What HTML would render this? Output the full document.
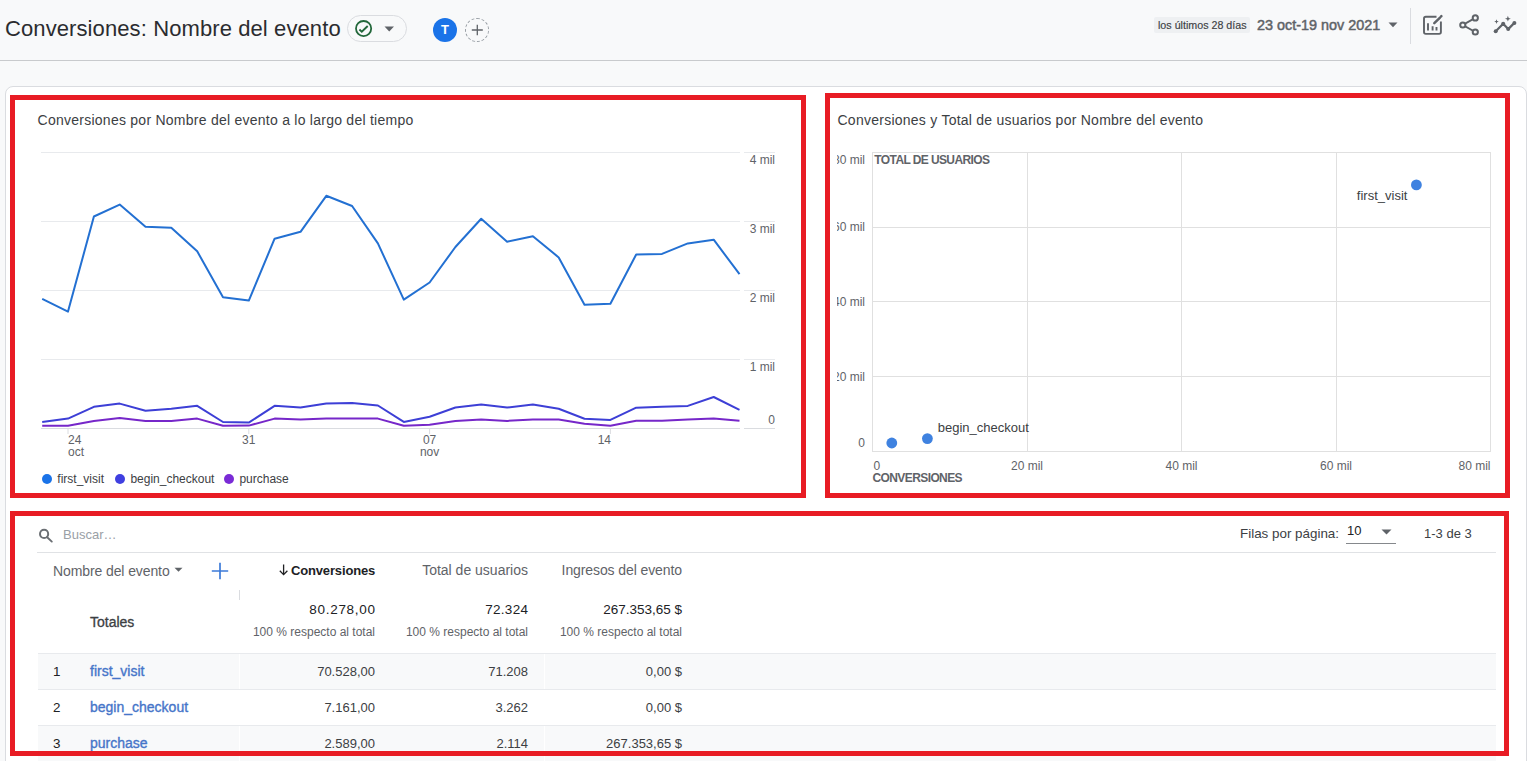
<!DOCTYPE html>
<html><head><meta charset="utf-8">
<style>
*{box-sizing:border-box;margin:0;padding:0}
html,body{width:1527px;height:761px;overflow:hidden;background:#f8f9fa;font-family:"Liberation Sans",sans-serif;color:#202124}
.a{position:absolute;white-space:nowrap}
#hdrline{position:absolute;left:0;top:60px;width:1527px;height:1px;background:#c8cacd}
#card{position:absolute;left:5px;top:86px;width:1522px;height:700px;background:#fff;border:1px solid #dadce0;border-radius:8px}
.red{position:absolute;border:5px solid #e81c24}
svg{position:absolute;left:0;top:0}
</style></head><body>
<!-- header -->
<div class="a" id="title" style="left:5px;top:14px;font-size:22px;line-height:30px;color:#2b2c2f;letter-spacing:0.1px">Conversiones: Nombre del evento</div>
<div class="a" style="left:347px;top:15px;width:60px;height:27px;border:1px solid #dadce0;border-radius:14px"></div>
<svg style="left:355px;top:20px" width="18" height="18" viewBox="0 0 18 18"><circle cx="8.6" cy="8.6" r="7.6" fill="none" stroke="#22673a" stroke-width="1.8"/><path d="M4.4 9.5 L6.8 11.7 L12.7 6" fill="none" stroke="#22673a" stroke-width="1.9"/></svg>
<svg style="left:384px;top:26px" width="11" height="6" viewBox="0 0 11 6"><path d="M0.5 0.5 H10 L5.25 5.5 Z" fill="#5f6368"/></svg>
<div class="a" style="left:433px;top:18px;width:24px;height:24px;border-radius:50%;background:#1a73e8;color:#fff;font-weight:bold;font-size:13px;line-height:24px;text-align:center">T</div>
<div class="a" style="left:465px;top:18px;width:24px;height:24px;border-radius:50%;border:1px dashed #9aa0a6"></div>
<svg style="left:470px;top:23px" width="14" height="14" viewBox="0 0 14 14"><path d="M7.3 1.8 V12.2 M1.8 7 H12.8" stroke="#5f6368" stroke-width="1.3"/></svg>
<div class="a" style="left:1154px;top:17px;width:96px;height:16px;background:#eef0f2;border-radius:2px"></div>
<div class="a" style="left:1158px;top:17px;font-size:10.7px;line-height:16px;color:#3c4043;-webkit-text-stroke:0.15px #3c4043">los últimos 28 días</div>
<div class="a" style="left:1257px;top:16px;font-size:14.4px;line-height:18px;color:#5f6368;-webkit-text-stroke:0.5px #5f6368">23 oct-19 nov 2021</div>
<svg style="left:1388px;top:22px" width="10" height="6" viewBox="0 0 10 6"><path d="M0.5 0.5 H9.5 L5 5.3 Z" fill="#5f6368"/></svg>
<div class="a" style="left:1410px;top:8px;width:1px;height:36px;background:#dadce0"></div>
<svg style="left:1420px;top:12px" width="26" height="26" viewBox="0 0 26 26">
<path d="M16.5 4.8 H5.8 Q4 4.8 4 6.6 V20.1 Q4 21.9 5.8 21.9 H19.1 Q20.9 21.9 20.9 20.1 V9.4" fill="none" stroke="#5f6368" stroke-width="1.9"/>
<path d="M8 18.5 V11.2 M12.6 18.5 V14.2 M16.5 18.5 V15" stroke="#5f6368" stroke-width="1.9"/>
<path d="M14.3 11.1 L19.8 5.8" stroke="#5f6368" stroke-width="2.5" stroke-linecap="round"/>
<path d="M20.9 4.6 L21.4 4.1" stroke="#5f6368" stroke-width="2.5" stroke-linecap="round"/>
</svg>
<svg style="left:1455px;top:12px" width="26" height="26" viewBox="0 0 26 26">
<path d="M20.3 5.9 L7.8 13 L20.3 20" fill="none" stroke="#5f6368" stroke-width="2"/>
<circle cx="20.3" cy="5.9" r="2.6" fill="#f8f9fa" stroke="#5f6368" stroke-width="2"/>
<circle cx="7.8" cy="13" r="2.6" fill="#f8f9fa" stroke="#5f6368" stroke-width="2"/>
<circle cx="20.3" cy="20" r="2.6" fill="#f8f9fa" stroke="#5f6368" stroke-width="2"/>
</svg>
<svg style="left:1490px;top:12px" width="30" height="26" viewBox="0 0 30 26">
<path d="M5.7 19.2 L13.2 11.7 L18.2 17.1 L24.4 10.9" fill="none" stroke="#5f6368" stroke-width="2.2" stroke-linejoin="round"/>
<circle cx="5.7" cy="19.2" r="2" fill="#5f6368"/><circle cx="13.2" cy="11.7" r="2" fill="#5f6368"/><circle cx="18.2" cy="17.1" r="2" fill="#5f6368"/><circle cx="24.4" cy="10.9" r="2" fill="#5f6368"/>
<path d="M6.5 7.3 L7.1 9 L8.8 9.6 L7.1 10.2 L6.5 11.9 L5.9 10.2 L4.2 9.6 L5.9 9 Z" fill="#5f6368"/>
<path d="M17.9 3.8 L18.7 5.9 L20.8 6.7 L18.7 7.5 L17.9 9.6 L17.1 7.5 L15 6.7 L17.1 5.9 Z" fill="#5f6368"/>
</svg>
<div id="hdrline"></div>
<div id="card"></div>

<!--LINECHART-->
<svg width="1527" height="761" style="left:0;top:0">
<g stroke="#e8eaed" stroke-width="1">
<path d="M41 152.5 H740 M41 221.5 H740 M41 290.5 H740 M41 359.5 H740 M744 152.5 H775 M744 221.5 H775 M744 290.5 H775 M744 359.5 H775"/>
</g>
<path d="M41 428.5 H740 M744 428.5 H775" stroke="#dadce0" stroke-width="1"/>
<path d="M68 429 V434 M248.8 429 V434 M429.6 429 V434 M610.4 429 V434" stroke="#dadce0" stroke-width="1"/>
<polyline points="42.2,425.8 68.0,425.8 93.9,420.9 119.7,418.0 145.5,420.9 171.3,420.9 197.2,418.6 223.0,425.8 248.8,425.6 274.6,418.6 300.5,419.6 326.3,418.6 352.1,418.6 377.9,418.6 403.8,425.8 429.6,424.8 455.4,420.9 481.2,419.6 507.1,420.9 532.9,419.6 558.7,419.6 584.5,423.7 610.4,425.8 636.2,420.8 662.0,420.8 687.8,419.6 713.7,418.6 739.5,420.8" fill="none" stroke="#7627c9" stroke-width="2" stroke-linejoin="round"/>
<polyline points="42.2,421.9 68.0,418.6 93.9,406.8 119.7,403.6 145.5,410.8 171.3,408.8 197.2,405.8 223.0,422.0 248.8,422.6 274.6,405.8 300.5,407.5 326.3,403.6 352.1,402.9 377.9,405.5 403.8,421.9 429.6,416.7 455.4,407.5 481.2,404.6 507.1,407.5 532.9,404.6 558.7,408.8 584.5,418.7 610.4,419.9 636.2,407.7 662.0,406.7 687.8,405.9 713.7,397.0 739.5,409.8" fill="none" stroke="#3d3fd6" stroke-width="2" stroke-linejoin="round"/>
<polyline points="42.2,298.8 68.0,311.6 93.9,216.5 119.7,204.6 145.5,226.7 171.3,227.7 197.2,251.3 223.0,297.2 248.8,300.6 274.6,238.7 300.5,231.8 326.3,195.8 352.1,206.0 377.9,243.4 403.8,299.6 429.6,282.5 455.4,247.0 481.2,218.8 507.1,241.7 532.9,236.2 558.7,257.4 584.5,304.7 610.4,303.7 636.2,254.5 662.0,253.9 687.8,243.4 713.7,239.7 739.5,274.2" fill="none" stroke="#2370d2" stroke-width="2" stroke-linejoin="round"/>
<g font-family="Liberation Sans" font-size="12" fill="#5f6368" text-anchor="end">
<text x="775" y="164">4 mil</text>
<text x="775" y="233">3 mil</text>
<text x="775" y="302">2 mil</text>
<text x="775" y="371">1 mil</text>
<text x="775" y="424">0</text>
</g>
<g font-family="Liberation Sans" font-size="12" fill="#5f6368">
<text x="68" y="444">24</text><text x="68" y="456">oct</text>
<text x="248.8" y="444" text-anchor="middle">31</text>
<text x="429.6" y="444" text-anchor="middle">07</text><text x="429.6" y="456" text-anchor="middle">nov</text>
<text x="611" y="444" text-anchor="end">14</text>
</g>
<circle cx="47" cy="479" r="5" fill="#1a73e8"/>
<circle cx="120" cy="479" r="5" fill="#3f3fe0"/>
<circle cx="229" cy="479" r="5" fill="#7a2bd6"/>
<g font-family="Liberation Sans" font-size="12" fill="#3c4043">
<text x="57.3" y="483.3">first_visit</text>
<text x="130.4" y="483.3">begin_checkout</text>
<text x="239.4" y="483.3">purchase</text>
</g>
<text x="37.6" y="124.6" font-family="Liberation Sans" font-size="14" letter-spacing="0.25" fill="#3c4043">Conversiones por Nombre del evento a lo largo del tiempo</text>
</svg>
<!--SCATTER-->
<svg width="1527" height="761" style="left:0;top:0">
<defs><clipPath id="cl"><rect x="837" y="140" width="700" height="360"/></clipPath></defs>
<text x="837.5" y="125" font-family="Liberation Sans" font-size="14" letter-spacing="0.25" fill="#3c4043">Conversiones y Total de usuarios por Nombre del evento</text>
<g stroke="#e0e0e0" stroke-width="1" fill="none">
<path d="M872.5 227.5 H1490.5 M872.5 301.5 H1490.5 M872.5 376.5 H1490.5 M1027.5 152.5 V451.5 M1181.5 152.5 V451.5 M1336.5 152.5 V451.5"/>
<rect x="872.5" y="152.5" width="618" height="299"/>
</g>
<g font-family="Liberation Sans" font-size="12" fill="#5f6368" text-anchor="end" clip-path="url(#cl)">
<text x="865" y="164">80 mil</text>
<text x="865" y="231">60 mil</text>
<text x="865" y="306">40 mil</text>
<text x="865" y="380.5">20 mil</text>
<text x="865" y="447">0</text>
</g>
<g font-family="Liberation Sans" font-size="12" fill="#5f6368" text-anchor="middle">
<text x="873.5" y="470" text-anchor="start">0</text>
<text x="1027" y="470">20 mil</text>
<text x="1181.5" y="470">40 mil</text>
<text x="1336" y="470">60 mil</text>
<text x="1490.5" y="470" text-anchor="end">80 mil</text>
</g>
<text x="874.3" y="163.8" font-family="Liberation Sans" font-size="12" font-weight="bold" letter-spacing="-0.6" fill="#5f6368">TOTAL DE USUARIOS</text>
<text x="872.5" y="482" font-family="Liberation Sans" font-size="12" font-weight="bold" letter-spacing="-0.6" fill="#5f6368">CONVERSIONES</text>
<circle cx="891.8" cy="443" r="5.4" fill="#3f82e0"/>
<circle cx="927.4" cy="438.6" r="5.4" fill="#3f82e0"/>
<circle cx="1416.4" cy="184.9" r="5.4" fill="#3f82e0"/>
<g font-family="Liberation Sans" font-size="13" fill="#3c4043">
<text x="937.7" y="432.2">begin_checkout</text>
<text x="1407.4" y="200" text-anchor="end">first_visit</text>
</g>
</svg>
<!--TABLE-->
<div class="a" style="left:38px;top:653px;width:1458px;height:37px;background:#f8f9fa;border-top:1px solid #e8eaed;border-bottom:1px solid #e8eaed"></div>
<div class="a" style="left:38px;top:725px;width:1458px;height:36px;background:#f8f9fa;border-top:1px solid #e8eaed"></div>
<div class="a" style="left:239px;top:654px;width:1px;height:35px;background:#fff"></div><div class="a" style="left:239px;top:726px;width:1px;height:35px;background:#fff"></div><div class="a" style="left:544px;top:654px;width:1px;height:35px;background:#fff"></div><div class="a" style="left:544px;top:726px;width:1px;height:35px;background:#fff"></div>
<div class="a" style="left:239px;top:590px;width:1px;height:10px;background:#dadce0"></div>
<div class="a" style="left:37px;top:552px;width:1459px;height:1px;background:#e0e2e5"></div>
<svg style="left:38px;top:528px" width="16" height="16" viewBox="0 0 16 16"><circle cx="6.1" cy="5.9" r="4.1" fill="none" stroke="#6b6f74" stroke-width="2"/><path d="M9.2 9.2 L13.8 13.6" stroke="#6b6f74" stroke-width="1.9" stroke-linecap="round"/></svg>
<div class="a" style="left:63px;top:527px;font-size:13px;line-height:16px;color:#9aa0a6">Buscar&#8230;</div>
<div class="a" style="left:1240px;top:526px;font-size:13.4px;line-height:16px;color:#3c4043">Filas por página:</div>
<div class="a" style="left:1347px;top:523px;font-size:13px;line-height:16px;color:#202124">10</div>
<svg style="left:1381px;top:529px" width="11" height="6" viewBox="0 0 11 6"><path d="M0.5 0.5 H10.5 L5.5 5.5 Z" fill="#5f6368"/></svg>
<div class="a" style="left:1346px;top:543px;width:50px;height:1px;background:#85888c"></div>
<div class="a" style="left:1424px;top:526px;font-size:13px;line-height:16px;color:#3c4043">1-3 de 3</div>
<div class="a" style="left:53px;top:563px;font-size:14px;letter-spacing:-0.1px;line-height:16px;color:#5f6368">Nombre del evento</div>
<svg style="left:174px;top:567px" width="9" height="6" viewBox="0 0 9 6"><path d="M0.5 0.8 H8.5 L4.5 4.8 Z" fill="#5f6368"/></svg>
<svg style="left:210px;top:561px" width="20" height="20" viewBox="0 0 20 20"><path d="M10 1.8 V18.2 M1.8 10 H18.2" stroke="#3d7bd9" stroke-width="1.7"/></svg>
<svg style="left:279px;top:564px" width="10" height="12" viewBox="0 0 10 12"><path d="M4.6 0.5 V10.5 M0.8 6.8 L4.6 10.6 L8.4 6.8" fill="none" stroke="#202124" stroke-width="1.3"/></svg>
<div class="a" style="right:1152px;top:562px;font-size:13px;line-height:16px;font-weight:bold;color:#202124;letter-spacing:-0.15px;margin-right:-0.15px;top:563px">Conversiones</div>
<div class="a" style="right:999px;top:562px;font-size:14px;line-height:16px;color:#5f6368">Total de usuarios</div>
<div class="a" style="right:845px;top:562px;font-size:14px;letter-spacing:-0.1px;margin-right:0.1px;line-height:16px;color:#5f6368">Ingresos del evento</div>
<div class="a" style="left:90px;top:614px;font-size:14px;line-height:16px;color:#3c4043;-webkit-text-stroke:0.3px #3c4043">Totales</div>
<div class="a" style="right:1152px;top:602px;font-size:13.5px;line-height:16px;color:#202124;letter-spacing:0.7px;margin-right:-0.7px">80.278,00</div>
<div class="a" style="right:999px;top:602px;font-size:13.5px;line-height:16px;color:#202124;letter-spacing:0.3px;margin-right:-0.3px">72.324</div>
<div class="a" style="right:845px;top:602px;font-size:13.5px;line-height:16px;color:#202124;letter-spacing:0px;margin-right:0px">267.353,65 $</div>
<div class="a" style="right:1152px;top:624px;font-size:12px;line-height:16px;color:#5f6368">100 % respecto al total</div>
<div class="a" style="right:999px;top:624px;font-size:12px;line-height:16px;color:#5f6368">100 % respecto al total</div>
<div class="a" style="right:845px;top:624px;font-size:12px;line-height:16px;color:#5f6368">100 % respecto al total</div>
<div class="a" style="left:53px;top:663.5px;font-size:13.4px;line-height:16px;color:#202124">1</div>
<div class="a" style="left:90px;top:663px;font-size:14px;line-height:16px;color:#4675c9;-webkit-text-stroke:0.35px #4675c9;letter-spacing:0px">first_visit</div>
<div class="a" style="right:1152px;top:664px;font-size:13px;line-height:16px;color:#3c4043">70.528,00</div>
<div class="a" style="right:999px;top:664px;font-size:13px;line-height:16px;color:#3c4043">71.208</div>
<div class="a" style="right:845px;top:664px;font-size:13px;line-height:16px;color:#3c4043">0,00 $</div>
<div class="a" style="left:53px;top:699.5px;font-size:13.4px;line-height:16px;color:#202124">2</div>
<div class="a" style="left:90px;top:699px;font-size:14px;line-height:16px;color:#4675c9;-webkit-text-stroke:0.35px #4675c9;letter-spacing:0px">begin_checkout</div>
<div class="a" style="right:1152px;top:700px;font-size:13px;line-height:16px;color:#3c4043">7.161,00</div>
<div class="a" style="right:999px;top:700px;font-size:13px;line-height:16px;color:#3c4043">3.262</div>
<div class="a" style="right:845px;top:700px;font-size:13px;line-height:16px;color:#3c4043">0,00 $</div>
<div class="a" style="left:53px;top:735.5px;font-size:13.4px;line-height:16px;color:#202124">3</div>
<div class="a" style="left:90px;top:735px;font-size:14px;line-height:16px;color:#4675c9;-webkit-text-stroke:0.35px #4675c9;letter-spacing:0px">purchase</div>
<div class="a" style="right:1152px;top:736px;font-size:13px;line-height:16px;color:#3c4043">2.589,00</div>
<div class="a" style="right:999px;top:736px;font-size:13px;line-height:16px;color:#3c4043">2.114</div>
<div class="a" style="right:845px;top:736px;font-size:13px;line-height:16px;color:#3c4043">267.353,65 $</div>
<div class="red" style="left:10px;top:95px;width:796px;height:403px"></div>
<div class="red" style="left:825px;top:93px;width:685px;height:405px"></div>
<div class="red" style="left:10px;top:511px;width:1499px;height:245px"></div>
</body></html>
